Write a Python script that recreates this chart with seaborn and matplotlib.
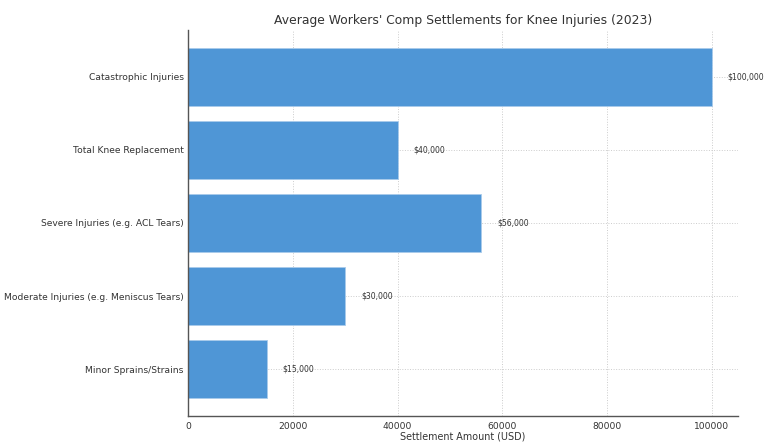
import pandas as pd
import seaborn as sns
import matplotlib.pyplot as plt

categories = ["Catastrophic Injuries", "Total Knee Replacement", "Severe Injuries (e.g. ACL Tears)",
              "Moderate Injuries (e.g. Meniscus Tears)", "Minor Sprains/Strains"]
amounts = [100000, 40000, 56000, 30000, 15000]

df = pd.DataFrame({"injury": categories, "amount": amounts})

sns.set_style("white")
plt.rcParams['font.family'] = ['DejaVu Sans']

f = plt.figure(figsize=(7.68, 4.46), dpi=100)
ax = f.add_axes([0.2448, 0.0673, 0.7162, 0.8654])

sns.barplot(data=df, x="amount", y="injury", orient="h", color="#4f96d6", saturation=1,
            width=0.8, edgecolor="#a9cbeb", linewidth=0.6, ax=ax, zorder=2)

for i, v in enumerate(amounts):
    ax.text(v + 3000, i, f"${v:,.0f}", va="center", ha="left", fontsize=5.6, color="#333333")

ax.set_xlim(0, 105000)
ax.set_ylim(4.64, -0.64)
ax.grid(True, linestyle=":", color="#cccccc", linewidth=0.7, zorder=0)
ax.set_axisbelow(True)

ax.set_title("Average Workers' Comp Settlements for Knee Injuries (2023)", fontsize=8.9,
             color="#333333", pad=4)
ax.set_xlabel("Settlement Amount (USD)", fontsize=6.9, color="#333333", labelpad=1)
ax.set_ylabel("")
ax.tick_params(axis="x", labelsize=6.6, colors="#333333", length=2, pad=2)
ax.tick_params(axis="y", labelsize=6.6, colors="#333333", length=0, pad=3)
for s in ["top", "right"]:
    ax.spines[s].set_visible(False)
for s in ["left", "bottom"]:
    ax.spines[s].set_color("#555555")
    ax.spines[s].set_linewidth(1)

f.savefig("out.png", dpi=100)
